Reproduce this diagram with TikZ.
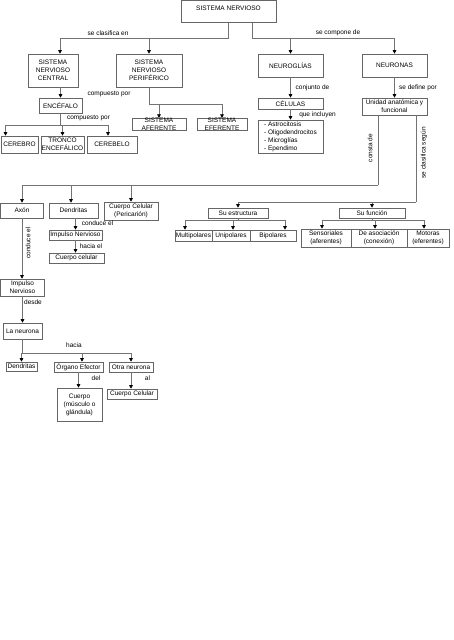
\documentclass[tikz,border=0pt]{standalone}
\usepackage{fontspec}
\setmainfont{Liberation Sans}
\usetikzlibrary{arrows.meta}

\begin{document}
\begin{tikzpicture}[x=1pt, y=-1pt,
    font=\fontsize{6.5}{8}\selectfont,
    box/.style={draw=black!60, line width=0.6pt, align=center, inner sep=1pt},
    lbl/.style={inner sep=0.5pt},
    con/.style={draw=black!55, line width=0.6pt},
    arr/.style={con, -{Triangle[length=3.5pt, width=3.5pt, color=black]}}]
    \useasboundingbox (0,0) rectangle (453,640);

    % Sistema nervioso
    \node[box, minimum width=95pt, text height=7.5pt, text depth=10.5pt, inner ysep=2pt] (sn) at (228.5,11.5) {SISTEMA NERVIOSO};
    \node[box, minimum width=50pt, minimum height=33pt] (snc) at (53,70.5) {SISTEMA\\NERVIOSO\\CENTRAL};
    \node[box, minimum width=66pt, minimum height=33pt] (snp) at (149,70.5) {SISTEMA\\NERVIOSO\\PERIFÉRICO};
    \node[box, minimum width=65pt, minimum height=23pt] (glia) at (290.5,65.5) {NEUROGLÍAS};
    \node[box, minimum width=65pt, minimum height=23pt] (neur) at (394.5,65.5) {NEURONAS};

    % Central y periférico
    \node[box, minimum width=43pt, minimum height=15pt] (enc) at (60.5,105.5) {ENCÉFALO};
    \node[box, minimum width=37pt, minimum height=17pt] (cbro) at (19.5,144.5) {CEREBRO};
    \node[box, minimum width=43pt, minimum height=17pt, inner sep=0pt] (tron) at (62.5,144.5) {TRONCO\\ENCEFÁLICO};
    \node[box, minimum width=50pt, minimum height=17pt] (cblo) at (112,144.5) {CEREBELO};
    \node[box, minimum width=54pt, minimum height=12pt, inner sep=0pt] (afe) at (159,124.5) {SISTEMA\\AFERENTE};
    \node[box, minimum width=50pt, minimum height=12pt, inner sep=0pt] (efe) at (222,124.5) {SISTEMA\\EFERENTE};

    % Neuroglías
    \node[box, minimum width=65pt, minimum height=11pt] (cel) at (290.5,103.5) {CÉLULAS};
    \node[box, align=left, minimum width=65pt, minimum height=33pt] (lst) at (290.5,136.5) {- Astrocitosis\\- Oligodendrocitos\\- Microglías\\- Ependimo};

    % Neuronas
    \node[box, minimum width=65pt, minimum height=17pt] (uni) at (394.5,106.5) {Unidad anatómica y\\funcional};
    \node[box, minimum width=43pt, minimum height=15pt] (axon) at (22,210.5) {Axón};
    \node[box, minimum width=49pt, minimum height=15pt] (den) at (73.5,210.5) {Dendritas};
    \node[box, minimum width=54pt, minimum height=18pt] (cc) at (131,211) {Cuerpo Celular\\(Pericarión)};
    \node[box, minimum width=53pt, minimum height=10pt, inner sep=0.5pt] (imp) at (75.5,235) {Impulso Nervioso};
    \node[box, minimum width=55pt, minimum height=10pt] (cce) at (76.5,258) {Cuerpo celular};
    \node[box, minimum width=44pt, minimum height=17pt] (imp2) at (22.5,287.5) {Impulso\\Nervioso};
    \node[box, minimum width=39pt, minimum height=16pt] (neu) at (22.5,331) {La neurona};
    \node[box, minimum width=31pt, minimum height=9pt] (den2) at (21.5,366.5) {Dendritas};
    \node[box, minimum width=49pt, minimum height=10pt] (org) at (78.5,367) {Órgano Efector};
    \node[box, minimum width=44pt, minimum height=10pt] (otra) at (131,367) {Otra neurona};
    \node[box, minimum width=45pt, minimum height=33pt] (mus) at (79.5,404.5) {Cuerpo\\(músculo o\\glándula)};
    \node[box, minimum width=50pt, minimum height=10pt] (cc2) at (132,394) {Cuerpo Celular};

    % Estructura y función
    \node[box, minimum width=60pt, minimum height=10pt] (est) at (238,213) {Su estructura};
    \node[box, minimum width=66pt, minimum height=10pt] (fun) at (372,213) {Su función};
    \node[box, minimum width=37pt, minimum height=11pt, inner sep=0.5pt] (mul) at (193.5,235.5) {Multipolares};
    \node[box, minimum width=38pt, minimum height=11pt] (unip) at (231,235.5) {Unipolares};
    \node[box, minimum width=46pt, minimum height=11pt] (bip) at (273,235.5) {Bipolares};
    \node[box, minimum width=50pt, minimum height=18pt] (sen) at (326,238) {Sensoriales\\(aferentes)};
    \node[box, minimum width=56pt, minimum height=18pt] (aso) at (379,238) {De asociación\\(conexión)};
    \node[box, minimum width=42pt, minimum height=18pt] (mot) at (428,238) {Motoras\\(eferentes)};

    % Conexiones
    \coordinate (b1) at (228.5,38);
    \draw[con] (sn.south) -- (b1);
    \draw[arr] (b1) -| ([xshift=7pt]snc.north);
    \draw[arr] (b1) -| (snp.north);
    \coordinate (b2) at (252,38);
    \draw[con] (b2 |- sn.south) -- (b2);
    \draw[arr] (b2) -| (glia.north);
    \draw[arr] (b2) -| (neur.north);

    \draw[arr] (snc.south -| enc.north) -- (enc.north);
    \coordinate (b3) at (60.5,125);
    \draw[con] (enc.south) -- (b3);
    \draw[arr] (b3) -| ([xshift=-14pt]cbro.north);
    \draw[arr] (b3) -| (tron.north);
    \draw[arr] (b3) -| ([xshift=-4pt]cblo.north);

    \coordinate (b4) at (149,104);
    \draw[con] (snp.south) -- (b4);
    \draw[arr] (b4) -| (afe.north);
    \draw[arr] (b4) -| (efe.north);

    \draw[arr] (glia.south) -- (cel.north);
    \draw[arr] (cel.south) -- (lst.north);
    \draw[arr] (neur.south) -- (uni.north);

    \coordinate (b5) at (378,185);
    \draw[con] (uni.south -| b5) -- (b5);
    \draw[arr] (b5) -| (axon.north);
    \draw[arr] (b5) -| ([xshift=-2.5pt]den.north);
    \draw[arr] (b5) -| (cc.north);
    \coordinate (b6) at (416,202);
    \draw[con] (uni.south -| b6) -- (b6);
    \draw[arr] (b6) -| (est.north);
    \draw[arr] (b6) -| (fun.north);

    \coordinate (b7) at (238,220.5);
    \draw[con] (est.south) -- (b7);
    \draw[arr] (b7) -| ([xshift=-8.5pt]mul.north);
    \draw[arr] (b7) -| ([xshift=2pt]unip.north);
    \draw[arr] (b7) -| ([xshift=12pt]bip.north);
    \coordinate (b8) at (372,220.5);
    \draw[con] (fun.south) -- (b8);
    \draw[arr] (b8) -| ([xshift=-4pt]sen.north);
    \draw[arr] (b8) -| ([xshift=-4pt]aso.north);
    \draw[arr] (b8) -| ([xshift=-4pt]mot.north);

    \draw[arr] (den.south -| imp.north) -- (imp.north);
    \draw[arr] (imp.south) -- (imp.south |- cce.north);
    \draw[arr] (axon.south) -- (axon.south |- imp2.north);
    \draw[arr] (imp2.south) -- (neu.north);
    \coordinate (b9) at (22.5,353);
    \draw[con] (neu.south) -- (b9);
    \draw[arr] (b9) -| (den2.north);
    \draw[arr] (b9) -| ([xshift=3.5pt]org.north);
    \draw[arr] (b9) -| (otra.north);
    \draw[arr] (org.south) -- (org.south |- mus.north);
    \draw[arr] (otra.south) -- (otra.south |- cc2.north);

    % Etiquetas
    \node[lbl] (l1) at (108,33) {se clasifica en};
    \node[lbl] (l2) at (338,33) {se compone de};
    \node[lbl] (l3) at (109,94) {compuesto por};
    \node[lbl] (l4) at (88.5,118) {compuesto por};
    \node[lbl] (l5) at (312.5,88) {conjunto de};
    \node[lbl] (l6) at (317.5,115) {que incluyen};
    \node[lbl] (l7) at (418,88) {se define por};
    \node[lbl, rotate=90] (l8) at (370,148) {consta de};
    \node[lbl, rotate=90] (l9) at (424,153) {se clasifica según};
    \node[lbl] (l10) at (97.5,223) {conduce el};
    \node[lbl] (l11) at (91,246) {hacia el};
    \node[lbl, rotate=90] (l12) at (28,243) {conduce el};
    \node[lbl] (l13) at (33,302) {desde};
    \node[lbl] (l14) at (74,345) {hacia};
    \node[lbl] (l15) at (96,378) {del};
    \node[lbl] (l16) at (147.5,378) {al};
\end{tikzpicture}
\end{document}
